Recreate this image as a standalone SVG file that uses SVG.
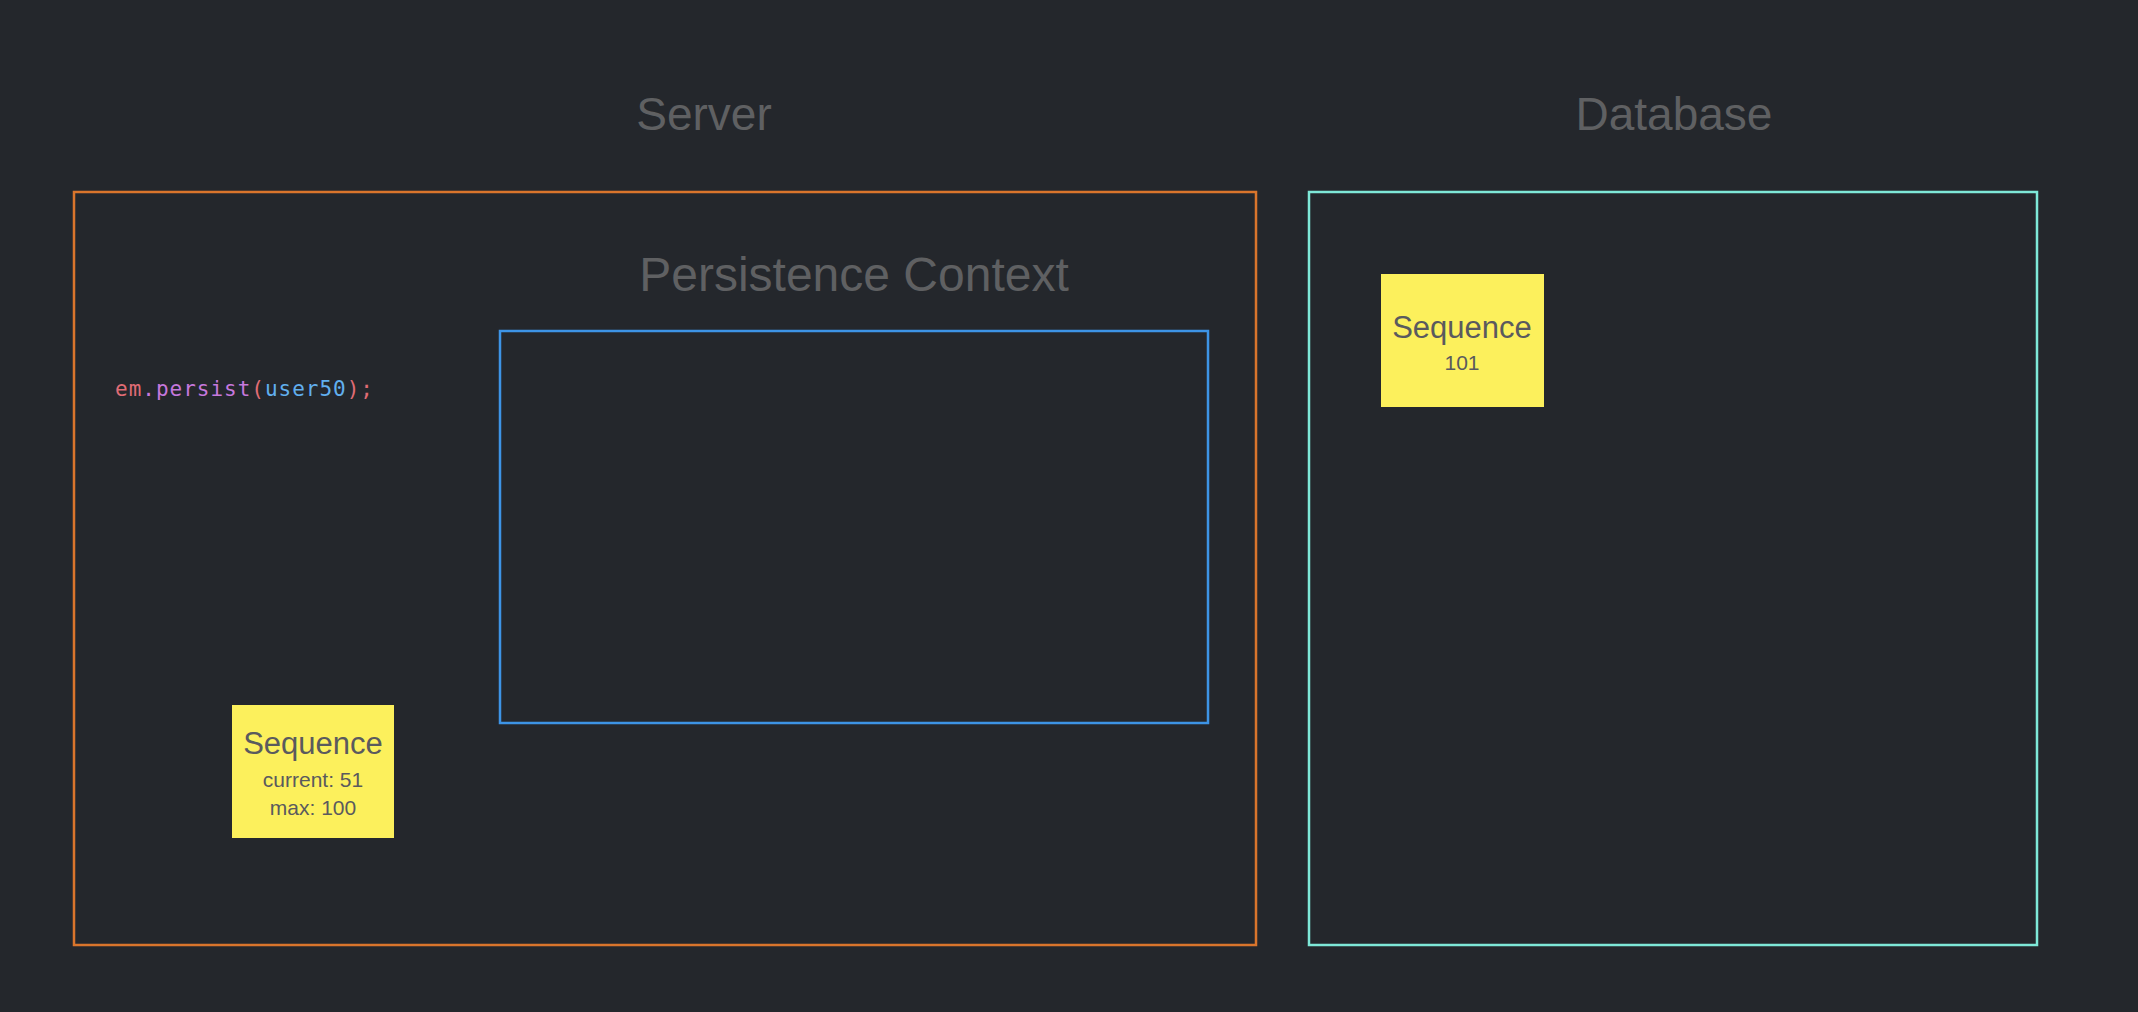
<svg xmlns="http://www.w3.org/2000/svg" width="2138" height="1012" viewBox="0 0 2138 1012">
<style>
.title{font-family:"Liberation Sans",Arial,sans-serif;fill:#5f6062;text-anchor:middle}
.seq{fill:#fcf05c}
.st{font-family:"Liberation Sans",Arial,sans-serif;fill:#5a5a5e;text-anchor:middle}
.code{font-family:"DejaVu Sans Mono","Liberation Mono",monospace;font-size:21px}
</style>
<rect width="2138" height="1012" fill="#24272c"/>
<g id="server">
<rect x="74" y="192" width="1182" height="753" fill="none" stroke="#d9752c" stroke-width="2.5"/>
<text class="title" x="704" y="130" font-size="46">Server</text>
</g>
<g id="database">
<rect x="1309" y="192" width="728" height="753" fill="none" stroke="#7ee8d8" stroke-width="2.5"/>
<text class="title" x="1674" y="130" font-size="46">Database</text>
</g>
<g id="persistence-context">
<rect x="500" y="331" width="708" height="392" fill="none" stroke="#3d94e6" stroke-width="2.5"/>
<text class="title" x="854" y="291" font-size="48">Persistence Context</text>
</g>
<g id="code">
<text class="code" x="115" y="396" textLength="258" lengthAdjust="spacing"><tspan fill="#e06c75">em</tspan><tspan fill="#c678dd">.persist</tspan><tspan fill="#e06c75">(</tspan><tspan fill="#61afef">user50</tspan><tspan fill="#e06c75">);</tspan></text>
</g>
<g id="server-sequence">
<rect class="seq" x="232" y="705" width="162" height="133"/>
<text class="st" x="313" y="754" font-size="31">Sequence</text>
<text class="st" x="313" y="787" font-size="21">current: 51</text>
<text class="st" x="313" y="815" font-size="21">max: 100</text>
</g>
<g id="db-sequence">
<rect class="seq" x="1381" y="274" width="163" height="133"/>
<text class="st" x="1462" y="338" font-size="31">Sequence</text>
<text class="st" x="1462" y="370" font-size="21">101</text>
</g>
<g id="connectors"/>
</svg>
